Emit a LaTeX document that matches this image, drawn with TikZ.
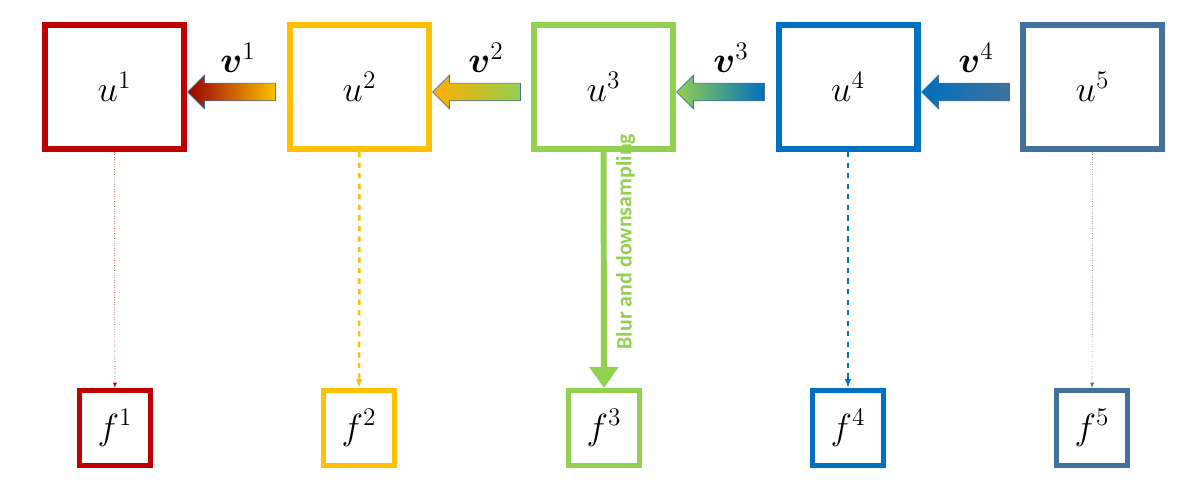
\documentclass[tikz,border=0pt]{standalone}
\usepackage{amsmath}
\usepackage{fontspec}
\newfontfamily\calibri{Carlito}
\usetikzlibrary{positioning,shapes.arrows,arrows.meta}
\definecolor{cred}{HTML}{C00000}
\definecolor{cyel}{HTML}{FFC000}
\definecolor{cgrn}{HTML}{92D050}
\definecolor{cblu}{HTML}{0070C0}
\definecolor{cstl}{HTML}{41719C}
\tikzset {
    big box/.style={
        draw=#1,
        line width=6pt*0.57,
        rectangle, % the u boxes
        minimum width=2.78cm,
        minimum height=2.48cm,
        font=\huge,
    },
    small box/.style={
        draw=#1,
        line width=5pt*0.57,
        rectangle, % the f boxes
        minimum width=1.42cm,
        minimum height=1.5cm,
        font=\huge,
    },
    fat arrow/.style 2 args={
        single arrow,
        shape border rotate=180,
        draw=cstl,
        thin,
        left color=#1,
        right color=#2,
        minimum height=1.76cm,
        inner xsep=0pt,
        inner ysep=0.17cm,
        single arrow head extend=0.16cm,
        single arrow head indent=0pt,
    },
    vlabel/.style={font=\huge},
}
\begin{document}
\begin{tikzpicture}[x=0.02cm, y=-0.02cm]
\useasboundingbox (0,0) rectangle (1200,496);

\node[big box=cred] (u1) at (114.5,87) {$u^1$};
\node[big box=cyel] (u2) at (359.5,87) {$u^2$};
\node[big box=cgrn] (u3) at (603.5,87) {$u^3$};
\node[big box=cblu] (u4) at (848,87) {$u^4$};
\node[big box=cstl] (u5) at (1092.5,87) {$u^5$};

\node[small box=cred] (f1) at (115,428) {$f^1$};
\node[small box=cyel] (f2) at (359,428) {$f^2$};
\node[small box=cgrn] (f3) at (604,428) {$f^3$};
\node[small box=cblu] (f4) at (848,428) {$f^4$};
\node[small box=cstl] (f5) at (1092,428) {$f^5$};

\node[fat arrow={cred!80!black}{cyel}] (a1) at (236,92) {};
\node[fat arrow={cyel!90!red}{cgrn}] (a2) at (481,92) {};
\node[fat arrow={cgrn}{cblu}] (a3) at (725,92) {};
\node[fat arrow={cblu}{cstl}] (a4) at (970,92) {};

\node[vlabel] (v1) at (238,58) {$\boldsymbol{v}^1$};
\node[vlabel] (v2) at (486,58) {$\boldsymbol{v}^2$};
\node[vlabel] (v3) at (731,58) {$\boldsymbol{v}^3$};
\node[vlabel] (v4) at (976,58) {$\boldsymbol{v}^4$};

\draw[cred, thin, densely dotted, -{Latex[length=3pt]}] (u1) -- (f1);
\draw[cyel, line width=1.5pt, dashed, -{Latex[length=5pt]}] (u2) -- (f2);
\draw[cgrn, line width=3.4pt, -{Triangle[length=12pt,width=16pt]}] (u3) --
    node[pos=0.38, sloped, rotate=180, anchor=north, yshift=-2pt, font=\calibri\bfseries\fontsize{12.5}{14}\selectfont, text=cgrn] {Blur and downsampling} (f3);
\draw[cblu, line width=1.5pt, dashed, -{Latex[length=5pt]}] (u4) -- (f4);
\draw[cstl, thin, densely dotted, -{Latex[length=3pt]}] (u5) -- (f5);
\end{tikzpicture}
\end{document}
